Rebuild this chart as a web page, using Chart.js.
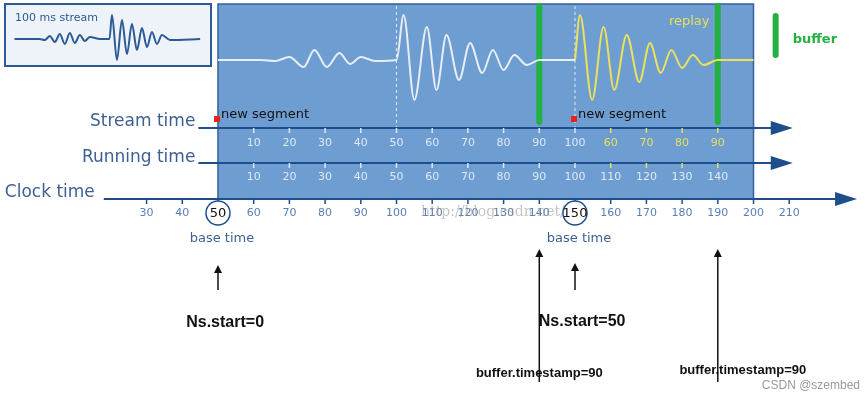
<!DOCTYPE html>
<html>
<head>
<meta charset="utf-8">
<script src="https://cdn.jsdelivr.net/npm/chart.js@4/dist/chart.umd.min.js"></script>
<style>
  body { margin: 0; background: #fff; }
  #c { display: block; }
</style>
</head>
<body>
<canvas id="c" width="865" height="400"></canvas>
<script>
// clock axis ticks
const clockTicks = [30, 40, 50, 60, 70, 80, 90, 100, 110, 120, 130, 140, 150, 160, 170, 180, 190, 200, 210];
// stream time labels, placed at clock 60..190
const streamTickClock = [60, 70, 80, 90, 100, 110, 120, 130, 140, 150, 160, 170, 180, 190];
const streamLabels = ["10", "20", "30", "40", "50", "60", "70", "80", "90", "100", "60", "70", "80", "90"];
const runningLabels = ["10", "20", "30", "40", "50", "60", "70", "80", "90", "100", "110", "120", "130", "140"];
const bufferClock = [140, 190];
const baseTimes = [50, 150];

// waveform points: [clock, y]
const waveWhite = [
  [50, 60], [62, 60], [66, 61], [70, 57], [74, 67], [77, 50], [80.5, 67], [84, 53], [87, 64], [90, 57], [94, 61], [100, 60],
  [102, 15], [105, 100], [108.5, 27], [111.2, 90], [114, 35], [117.5, 80], [120.6, 43], [124, 73], [127, 50],
  [130, 70], [133, 55], [136.5, 65], [140, 60], [150, 60]
];
const waveYellow = [
  [150, 60], [151.4, 15], [154.8, 100], [158, 27], [161, 90], [164.5, 35], [168, 82], [171, 43], [174, 73],
  [177, 50], [180, 68], [183, 55], [186, 65], [190, 60], [200, 60]
];
const waveInset = [
  [-7, 39], [0, 39], [1.5, 40], [2.9, 36], [4.3, 42], [5.7, 34], [7.1, 44], [8.5, 33], [9.9, 43], [11.3, 35],
  [12.7, 41], [14.1, 37], [17, 39], [19.6, 39], [20.3, 15], [21.7, 60], [23.1, 20], [24.5, 54], [25.9, 24],
  [27.3, 50], [28.7, 28], [30.1, 47], [31.5, 32], [32.9, 44], [34.3, 35], [36.6, 40], [45, 39]
];

const navy = "#1f4e8c";
const green = "#22b040";

function pts(a) { return a.map(p => ({ x: p[0], y: p[1] })); }

const decor = {
  id: "decor",
  beforeDatasetsDraw(chart) {
    const ctx = chart.ctx, X = chart.scales.x, Y = chart.scales.y;
    const px = v => X.getPixelForValue(v), py = v => Y.getPixelForValue(v);
    ctx.save();
    // main blue panel
    ctx.fillStyle = "#6e9dd2";
    ctx.fillRect(px(50), py(4), px(200) - px(50), py(199) - py(4));
    ctx.strokeStyle = "#35609c";
    ctx.lineWidth = 1.5;
    ctx.strokeRect(px(50), py(4), px(200) - px(50), py(199) - py(4));
    // inset box
    ctx.fillStyle = "#eef3f9";
    ctx.fillRect(5, 4, 206, 62);
    ctx.strokeStyle = "#2c5a96";
    ctx.lineWidth = 2;
    ctx.strokeRect(5, 4, 206, 62);
    ctx.fillStyle = "#2c5a96";
    ctx.font = "11px 'DejaVu Sans'";
    ctx.textBaseline = "middle";
    ctx.fillText("100 ms stream", 15, 18);
    // dashed segment markers
    ctx.strokeStyle = "rgba(255,255,255,0.8)";
    ctx.lineWidth = 1;
    ctx.setLineDash([3, 3]);
    [100, 150].forEach(c => {
      ctx.beginPath(); ctx.moveTo(px(c), py(6)); ctx.lineTo(px(c), py(127)); ctx.stroke();
    });
    ctx.setLineDash([]);
    ctx.restore();
  },
  afterDatasetsDraw(chart) {
    const ctx = chart.ctx, X = chart.scales.x, Y = chart.scales.y;
    const px = v => X.getPixelForValue(v), py = v => Y.getPixelForValue(v);
    ctx.save();
    const arrowLine = (x0, x1, y, head) => {
      ctx.strokeStyle = navy; ctx.fillStyle = navy; ctx.lineWidth = 2;
      ctx.beginPath(); ctx.moveTo(x0, y); ctx.lineTo(x1 - 10, y); ctx.stroke();
      if (head) {
        ctx.beginPath(); ctx.moveTo(x1, y); ctx.lineTo(x1 - 22, y - 7); ctx.lineTo(x1 - 22, y + 7); ctx.closePath(); ctx.fill();
      }
    };
    // axes lines
    arrowLine(px(44.5), px(211), py(128), true);
    arrowLine(px(44.5), px(211), py(163), true);
    arrowLine(px(18), px(229), py(199), true);
    // axis names
    ctx.fillStyle = "#3d5f95";
    ctx.font = "17px 'DejaVu Sans'";
    ctx.textBaseline = "middle"; ctx.textAlign = "right";
    ctx.fillText("Stream time", px(44.5) - 3, py(122));
    ctx.fillText("Running time", px(44.5) - 3, py(158));
    ctx.fillText("Clock time", px(15.5), py(193));
    // tick marks + labels
    ctx.textAlign = "center";
    ctx.font = "11px 'DejaVu Sans'";
    ctx.lineWidth = 1.5;
    streamTickClock.forEach((c, i) => {
      ctx.strokeStyle = i >= 10 ? "#eadf5a" : "#dfe8f4";
      ctx.beginPath(); ctx.moveTo(px(c), py(128)); ctx.lineTo(px(c), py(133)); ctx.stroke();
      ctx.beginPath(); ctx.moveTo(px(c), py(163)); ctx.lineTo(px(c), py(168)); ctx.stroke();
      ctx.fillStyle = i >= 10 ? "#eadf5a" : "#dfe8f4";
      ctx.fillText(streamLabels[i], px(c), py(143));
      ctx.fillStyle = "#dfe8f4";
      ctx.fillText(runningLabels[i], px(c), py(177));
    });
    ctx.strokeStyle = navy;
    clockTicks.forEach(c => {
      ctx.beginPath(); ctx.moveTo(px(c), py(199)); ctx.lineTo(px(c), py(204)); ctx.stroke();
      if (baseTimes.includes(c)) return;
      ctx.fillStyle = "#5a7db5";
      ctx.fillText(String(c), px(c), py(213));
    });
    // watermark
    ctx.fillStyle = "rgba(150,150,150,0.55)";
    ctx.font = "14px 'DejaVu Serif'";
    ctx.fillText("http://blog.csdn.net/", px(127), py(212));
    // base time circles
    ctx.font = "13px 'DejaVu Sans'";
    baseTimes.forEach(c => {
      ctx.fillStyle = "#ffffff"; ctx.strokeStyle = navy; ctx.lineWidth = 1.5;
      ctx.beginPath(); ctx.arc(px(c), py(213), 12, 0, Math.PI * 2); ctx.fill(); ctx.stroke();
      ctx.fillStyle = "#111"; ctx.fillText(String(c), px(c), py(214));
      ctx.fillStyle = "#3d5f95";
      ctx.fillText("base time", px(c) + 4, py(239));
    });
    // new segment markers
    ctx.font = "13px 'DejaVu Sans'"; ctx.textAlign = "left";
    [50, 100].forEach((c, i) => {
      const x = i === 0 ? px(50) : px(150);
      ctx.fillStyle = "#e8231f";
      ctx.fillRect(x - 4, py(116), 6, 6);
      ctx.fillStyle = "#111";
      ctx.fillText("new segment", x + 3, py(115));
    });
    // replay + buffer legend
    ctx.fillStyle = "#eadf5a"; ctx.textAlign = "center";
    ctx.font = "13px 'DejaVu Sans'";
    ctx.fillText("replay", px(182), py(22));
    ctx.fillStyle = green; ctx.font = "bold 13px 'DejaVu Sans'"; ctx.textAlign = "left";
    ctx.fillText("buffer", px(211), py(40));
    // arrows
    const upArrow = (x, y0, y1) => {
      ctx.strokeStyle = "#111"; ctx.fillStyle = "#111"; ctx.lineWidth = 1.5;
      ctx.beginPath(); ctx.moveTo(x, y0); ctx.lineTo(x, y1 + 3); ctx.stroke();
      ctx.beginPath(); ctx.moveTo(x, y1); ctx.lineTo(x - 4, y1 + 8); ctx.lineTo(x + 4, y1 + 8); ctx.closePath(); ctx.fill();
    };
    upArrow(px(50), py(290), py(265));
    upArrow(px(150), py(290), py(263));
    bufferClock.forEach(c => upArrow(px(c), py(382), py(249)));
    ctx.fillStyle = "#111"; ctx.textAlign = "center";
    ctx.font = "bold 16px 'Liberation Sans Narrow', 'Liberation Sans'";
    ctx.fillText("Ns.start=0", px(52), py(323));
    ctx.fillText("Ns.start=50", px(152), py(322));
    ctx.font = "bold 13px 'Liberation Sans Narrow', 'Liberation Sans'";
    ctx.fillText("buffer.timestamp=90", px(140), py(373));
    ctx.fillText("buffer.timestamp=90", px(197), py(370));
    ctx.fillStyle = "#999"; ctx.font = "12px 'Liberation Sans Narrow', 'Liberation Sans'";
    ctx.textAlign = "right";
    ctx.fillText("CSDN @szembed", 860, 386);
    ctx.restore();
  }
};

const lineDs = (data, color, width) => ({
  type: "line", data: pts(data), borderColor: color, borderWidth: width,
  pointRadius: 0, cubicInterpolationMode: "monotone", fill: false
});
const barDs = (c, y0, y1) => ({
  type: "line", data: [{ x: c, y: y0 }, { x: c, y: y1 }], borderColor: green,
  borderWidth: 6, borderCapStyle: "round", pointRadius: 0
});

new Chart(document.getElementById("c"), {
  type: "scatter",
  data: {
    datasets: [
      lineDs(waveWhite, "#e8eef6", 2),
      lineDs(waveYellow, "#ece25a", 2),
      lineDs(waveInset, "#2c5a96", 2),
      barDs(bufferClock[0], 6, 122),
      barDs(bufferClock[1], 6, 122),
      barDs(206.2, 16, 55)
    ]
  },
  options: {
    responsive: false,
    devicePixelRatio: 1,
    animation: false,
    layout: { padding: 0 },
    plugins: { legend: { display: false }, tooltip: { enabled: false } },
    scales: {
      x: { type: "linear", min: -11.06, max: 231.23, display: false },
      y: { type: "linear", min: 0, max: 400, reverse: true, display: false }
    }
  },
  plugins: [decor]
});
</script>
</body>
</html>
